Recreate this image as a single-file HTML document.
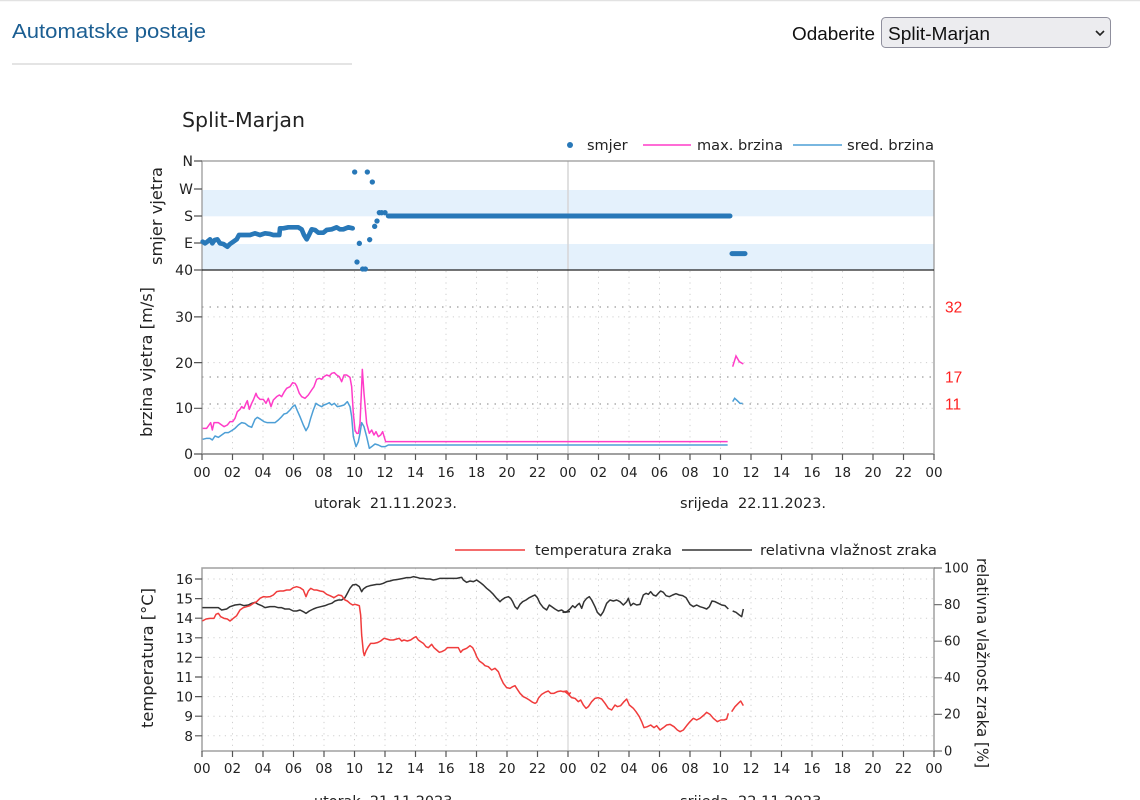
<!DOCTYPE html>
<html><head><meta charset="utf-8">
<style>
html,body{margin:0;padding:0;background:#fff;width:1140px;height:800px;overflow:hidden}
svg{position:absolute;left:0;top:0}
.t{font-family:"DejaVu Sans","Liberation Sans",sans-serif;fill:#222}
.h{font-family:"Liberation Sans",sans-serif}
</style></head><body>
<svg width="1140" height="800" viewBox="0 0 1140 800" xmlns="http://www.w3.org/2000/svg">
<line x1="0" y1="0.5" x2="1140" y2="0.5" stroke="#e2e2e2" stroke-width="1.5"/>
<!-- header -->
<text class="h" x="12" y="38" font-size="20.5" fill="#1b5e92" textLength="194" lengthAdjust="spacingAndGlyphs">Automatske postaje</text>
<line x1="12" y1="64" x2="352" y2="64" stroke="#dcdcdc" stroke-width="1.5"/>
<text class="h" x="792" y="40" font-size="18" fill="#111" textLength="83" lengthAdjust="spacingAndGlyphs">Odaberite</text>
<rect x="881.5" y="17.5" width="229" height="30" rx="4" fill="#ececef" stroke="#8f8f9d" stroke-width="1"/>
<text class="h" x="888" y="40" font-size="18" fill="#111" textLength="102" lengthAdjust="spacingAndGlyphs">Split-Marjan</text>
<path d="M1096 31 L1100 35 L1104 31" fill="none" stroke="#222" stroke-width="1.6"/>

<!-- ========== TOP CHART ========== -->
<text class="t" x="182" y="127" font-size="20.5" textLength="123" lengthAdjust="spacingAndGlyphs">Split-Marjan</text>
<!-- legend -->
<circle cx="570" cy="145" r="3" fill="#2878b8"/>
<text class="t" x="587" y="150" font-size="14.5">smjer</text>
<line x1="643" y1="145" x2="691" y2="145" stroke="#ff3cc8" stroke-width="1.6"/>
<text class="t" x="697" y="150" font-size="14.5" textLength="86" lengthAdjust="spacingAndGlyphs">max. brzina</text>
<line x1="793" y1="145" x2="842" y2="145" stroke="#4d9fd6" stroke-width="1.6"/>
<text class="t" x="847" y="150" font-size="14.5" textLength="87" lengthAdjust="spacingAndGlyphs">sred. brzina</text>

<!-- bands -->
<rect x="202" y="190" width="732" height="26.3" fill="#e4f1fc"/>
<rect x="202" y="244" width="732" height="26" fill="#e4f1fc"/>

<!-- speed panel grid -->
<path d="M232.5 271V454M263 271V454M293.5 271V454M324 271V454M354.5 271V454M385 271V454M415.5 271V454M446 271V454M476.5 271V454M507 271V454M537.5 271V454M598.5 271V454M629 271V454M659.5 271V454M690 271V454M720.5 271V454M751 271V454M781.5 271V454M812 271V454M842.5 271V454M873 271V454M903.5 271V454" stroke="#cfcfcf" stroke-width="1" stroke-dasharray="1.2,4.5"/>
<path d="M202 408.3H934M202 362.6H934M202 316.9H934" stroke="#cfcfcf" stroke-width="1" stroke-dasharray="1.2,4.5"/>
<path d="M202 307H934M202 377H934M202 404H934" stroke="#9a9a9a" stroke-width="1.3" stroke-dasharray="1.5,6"/>
<line x1="568" y1="161" x2="568" y2="454" stroke="#d6d6d6" stroke-width="1.5"/>

<!-- frame -->
<rect x="202" y="161" width="732" height="293" fill="none" stroke="#9a9a9a" stroke-width="1.3"/>
<line x1="202" y1="270" x2="934" y2="270" stroke="#222" stroke-width="1.3"/>
<line x1="202" y1="454" x2="934" y2="454" stroke="#a0a0a0" stroke-width="2"/>
<!-- left ticks -->
<path d="M194 161H202M194 189H202M194 216H202M194 243H202M194 270H202M194 316.9H202M194 362.6H202M194 408.3H202M194 454H202" stroke="#555" stroke-width="1.2"/>
<g class="t" font-size="14" text-anchor="end">
<text x="193" y="166">N</text><text x="193" y="194">W</text><text x="193" y="221">S</text><text x="193" y="248">E</text><text x="193" y="275">40</text>
<text x="193" y="322">30</text><text x="193" y="368">20</text><text x="193" y="413">10</text><text x="193" y="459">0</text>
</g>
<!-- bottom ticks -->
<path d="M202 454V460M232.5 454V460M263 454V460M293.5 454V460M324 454V460M354.5 454V460M385 454V460M415.5 454V460M446 454V460M476.5 454V460M507 454V460M537.5 454V460M568 454V460M598.5 454V460M629 454V460M659.5 454V460M690 454V460M720.5 454V460M751 454V460M781.5 454V460M812 454V460M842.5 454V460M873 454V460M903.5 454V460M934 454V460" stroke="#555" stroke-width="1.2"/>
<g class="t" font-size="13.5" text-anchor="middle">
<text x="202" y="477">00</text><text x="232.5" y="477">02</text><text x="263" y="477">04</text><text x="293.5" y="477">06</text><text x="324" y="477">08</text><text x="354.5" y="477">10</text><text x="385" y="477">12</text><text x="415.5" y="477">14</text><text x="446" y="477">16</text><text x="476.5" y="477">18</text><text x="507" y="477">20</text><text x="537.5" y="477">22</text><text x="568" y="477">00</text><text x="598.5" y="477">02</text><text x="629" y="477">04</text><text x="659.5" y="477">06</text><text x="690" y="477">08</text><text x="720.5" y="477">10</text><text x="751" y="477">12</text><text x="781.5" y="477">14</text><text x="812" y="477">16</text><text x="842.5" y="477">18</text><text x="873" y="477">20</text><text x="903.5" y="477">22</text><text x="934" y="477">00</text>
</g>
<text class="t" x="385.5" y="508" font-size="14" text-anchor="middle" textLength="143" lengthAdjust="spacingAndGlyphs">utorak&#160; 21.11.2023.</text>
<text class="t" x="753" y="508" font-size="14" text-anchor="middle" textLength="146" lengthAdjust="spacingAndGlyphs">srijeda&#160; 22.11.2023.</text>
<!-- axis titles -->
<text class="t" font-size="16" text-anchor="middle" transform="translate(162,216) rotate(-90)" textLength="98" lengthAdjust="spacingAndGlyphs">smjer vjetra</text>
<text class="t" font-size="16" text-anchor="middle" transform="translate(152,362) rotate(-90)" textLength="150" lengthAdjust="spacingAndGlyphs">brzina vjetra [m/s]</text>
<!-- threshold labels -->
<g class="h" font-size="15.5" fill="#ff2020" font-family="DejaVu Sans,sans-serif">
<text x="945" y="312.5" fill="#ff2020">32</text><text x="945" y="382.5" fill="#ff2020">17</text><text x="945" y="409.5" fill="#ff2020">11</text>
</g>

<!-- series: zoom2 coords -->
<g transform="translate(140,140) scale(0.33333)">
<polyline fill="none" stroke="#2878b8" stroke-width="14" stroke-linecap="round" stroke-linejoin="round" points="188,305 195,310 202,305 210,298 217,310 224,300 232,298 240,310 250,312 262,320 270,312 280,305 290,298 297,285 310,285 330,285 345,280 360,285 375,280 390,282 400,285 410,285 418,285 420,265 430,265 445,262 460,262 475,262 485,268 492,285 500,298 507,285 515,268 525,270 535,278 550,278 560,270 575,268 590,262 600,268 610,268 625,262 638,265"/>
<g fill="#2878b8">
<circle cx="644" cy="96" r="8"/><circle cx="651" cy="366" r="8"/><circle cx="658" cy="310" r="8"/><circle cx="668" cy="387" r="8"/><circle cx="676" cy="387" r="8"/><circle cx="682" cy="96" r="8"/><circle cx="689" cy="299" r="8"/><circle cx="697" cy="126" r="8"/><circle cx="704" cy="259" r="8"/><circle cx="711" cy="243" r="8"/><circle cx="718" cy="218" r="8"/><circle cx="725" cy="218" r="8"/><circle cx="735" cy="218" r="8"/>
</g>
<line x1="745" y1="228" x2="1770" y2="228" stroke="#2878b8" stroke-width="15" stroke-linecap="round"/>
<line x1="1776" y1="341" x2="1815" y2="341" stroke="#2878b8" stroke-width="15" stroke-linecap="round"/>

<polyline fill="none" stroke="#ff3cc8" stroke-width="4.5" stroke-linejoin="round" points="188,865 200,865 207,855 212,848 217,870 222,848 235,848 245,855 252,860 262,855 270,845 278,845 285,835 292,815 300,808 305,800 312,805 318,790 322,782 328,808 335,790 340,780 348,760 352,770 360,778 370,778 378,790 385,775 393,800 400,780 410,770 418,765 425,770 433,755 440,745 450,740 458,728 465,730 470,738 478,760 485,770 495,775 505,765 515,750 522,740 530,718 538,715 545,718 552,710 560,705 568,708 575,700 583,698 590,705 598,710 605,725 612,705 620,705 630,712 635,740 640,820 645,870 650,880 655,880 660,850 664,760 667,688 672,760 680,850 688,880 695,870 702,885 708,875 715,890 722,885 728,875 733,892 737,905 1763,905"/>
<polyline fill="none" stroke="#4d9fd6" stroke-width="4.5" stroke-linejoin="round" points="188,898 200,895 210,895 217,900 225,888 235,892 245,885 255,878 265,878 275,872 285,865 295,855 305,848 315,850 325,858 335,862 345,838 352,832 362,838 372,845 382,848 395,848 405,848 415,840 425,830 432,822 440,820 450,810 458,800 465,795 472,812 480,830 490,855 498,872 505,860 512,835 520,810 528,790 535,795 545,800 552,795 560,792 568,788 575,795 583,790 592,800 602,798 612,795 622,785 630,800 635,830 640,890 648,920 655,905 660,880 665,848 672,860 680,890 688,925 695,920 705,912 715,915 725,920 735,920 745,915 1763,915"/>
</g>
<g transform="translate(560,140) scale(0.33333)">
<polyline fill="none" stroke="#ff3cc8" stroke-width="4.5" points="518,680 528,648 538,665 550,672"/>
<polyline fill="none" stroke="#4d9fd6" stroke-width="4.5" points="518,785 524,775 532,782 540,790 548,790"/>
</g>

<!-- ========== BOTTOM CHART ========== -->
<line x1="455" y1="550" x2="525" y2="550" stroke="#f03c3c" stroke-width="1.6"/>
<text class="t" x="535" y="555" font-size="14.5" textLength="137" lengthAdjust="spacingAndGlyphs">temperatura zraka</text>
<line x1="682" y1="550" x2="752" y2="550" stroke="#333" stroke-width="1.6"/>
<text class="t" x="760" y="555" font-size="14.5" textLength="177" lengthAdjust="spacingAndGlyphs">relativna vlažnost zraka</text>

<path d="M232.5 568V751M263 568V751M293.5 568V751M324 568V751M354.5 568V751M385 568V751M415.5 568V751M446 568V751M476.5 568V751M507 568V751M537.5 568V751M598.5 568V751M629 568V751M659.5 568V751M690 568V751M720.5 568V751M751 568V751M781.5 568V751M812 568V751M842.5 568V751M873 568V751M903.5 568V751" stroke="#cfcfcf" stroke-width="1" stroke-dasharray="1.2,4.5"/>
<path d="M202 579H934M202 598.6H934M202 618.2H934M202 637.8H934M202 657.4H934M202 677H934M202 696.6H934M202 716.2H934M202 735.8H934" stroke="#cfcfcf" stroke-width="1" stroke-dasharray="1.2,4.5"/>
<line x1="568" y1="568" x2="568" y2="751" stroke="#d9d9d9" stroke-width="1.3"/>
<rect x="202" y="568" width="732" height="183" fill="none" stroke="#a0a0a0" stroke-width="1.5"/>
<path d="M195 579H202M195 598.6H202M195 618.2H202M195 637.8H202M195 657.4H202M195 677H202M195 696.6H202M195 716.2H202M195 735.8H202" stroke="#555" stroke-width="1.2"/>
<path d="M934 568H942M934 604.6H942M934 641.2H942M934 677.8H942M934 714.4H942M934 751H942" stroke="#777" stroke-width="1.2"/>
<g class="t" font-size="13.5" text-anchor="end">
<text x="193" y="584">16</text><text x="193" y="603.6">15</text><text x="193" y="623.2">14</text><text x="193" y="642.8">13</text><text x="193" y="662.4">12</text><text x="193" y="682">11</text><text x="193" y="701.6">10</text><text x="193" y="721.2">9</text><text x="193" y="740.8">8</text>
</g>
<g class="t" font-size="13">
<text x="944" y="572.5">100</text><text x="944" y="609">80</text><text x="944" y="645.5">60</text><text x="944" y="682">40</text><text x="944" y="718.5">20</text><text x="944" y="755.5">0</text>
</g>
<path d="M202 751V757M232.5 751V757M263 751V757M293.5 751V757M324 751V757M354.5 751V757M385 751V757M415.5 751V757M446 751V757M476.5 751V757M507 751V757M537.5 751V757M568 751V757M598.5 751V757M629 751V757M659.5 751V757M690 751V757M720.5 751V757M751 751V757M781.5 751V757M812 751V757M842.5 751V757M873 751V757M903.5 751V757M934 751V757" stroke="#555" stroke-width="1.2"/>
<g class="t" font-size="13.5" text-anchor="middle">
<text x="202" y="773">00</text><text x="232.5" y="773">02</text><text x="263" y="773">04</text><text x="293.5" y="773">06</text><text x="324" y="773">08</text><text x="354.5" y="773">10</text><text x="385" y="773">12</text><text x="415.5" y="773">14</text><text x="446" y="773">16</text><text x="476.5" y="773">18</text><text x="507" y="773">20</text><text x="537.5" y="773">22</text><text x="568" y="773">00</text><text x="598.5" y="773">02</text><text x="629" y="773">04</text><text x="659.5" y="773">06</text><text x="690" y="773">08</text><text x="720.5" y="773">10</text><text x="751" y="773">12</text><text x="781.5" y="773">14</text><text x="812" y="773">16</text><text x="842.5" y="773">18</text><text x="873" y="773">20</text><text x="903.5" y="773">22</text><text x="934" y="773">00</text>
</g>
<text class="t" x="385.5" y="806" font-size="14" text-anchor="middle" textLength="143" lengthAdjust="spacingAndGlyphs">utorak&#160; 21.11.2023.</text>
<text class="t" x="753" y="806" font-size="14" text-anchor="middle" textLength="146" lengthAdjust="spacingAndGlyphs">srijeda&#160; 22.11.2023.</text>
<text class="t" font-size="16" text-anchor="middle" transform="translate(153,658) rotate(-90)" textLength="140" lengthAdjust="spacingAndGlyphs">temperatura [°C]</text>
<text class="t" font-size="16" text-anchor="middle" transform="translate(977,663) rotate(90)" textLength="210" lengthAdjust="spacingAndGlyphs">relativna vlažnost zraka [%]</text>

<g transform="translate(130,535) scale(0.33333)" fill="none" stroke-width="4.5" stroke-linejoin="round">
<polyline stroke="#333" points="217,218 230,218 250,218 265,218 275,225 290,222 300,215 315,210 330,208 342,212 355,210 365,205 375,202 385,208 395,212 405,218 420,215 435,215 445,218 455,218 465,222 478,222 490,228 500,228 510,225 520,230 528,235 538,228 550,222 560,218 572,215 585,212 595,208 605,205 615,198 625,195 635,195 645,188 652,175 660,160 668,150 678,148 688,155 695,170 700,162 710,155 720,152 730,150 740,148 750,148 760,145 770,140 780,138 790,135 800,134 810,132 820,130 830,128 840,128 850,125 860,127 870,130 880,130 890,132 900,132 910,135 920,133 930,130 940,130 950,130 960,130 970,130 980,130 990,128 995,127 1000,135 1010,142 1020,138 1030,140 1040,135 1050,142 1060,150 1070,160 1080,168 1090,178 1100,190 1110,200 1115,195 1125,188 1135,185 1142,190 1148,200 1155,215 1162,222 1170,208 1178,200 1188,195 1198,188 1210,182 1215,180 1222,188 1230,205 1240,218 1250,225 1258,210 1265,215 1275,222 1285,228 1295,225 1305,232 1318,230 1320,230"/>
<polyline stroke="#f03c3c" points="217,258 228,252 240,250 252,250 258,238 265,235 272,245 282,250 292,252 300,258 310,250 320,242 330,225 340,218 350,215 360,212 370,205 380,200 390,190 400,185 410,186 420,185 430,180 440,170 450,168 460,168 470,165 480,165 490,158 500,155 510,158 520,165 528,185 535,168 542,160 552,165 560,165 570,168 580,170 590,178 600,182 612,188 625,180 635,182 645,195 652,198 660,205 668,210 675,208 682,210 688,212 692,240 695,300 700,350 703,362 708,348 715,335 722,325 732,325 742,323 752,318 762,310 770,312 780,315 790,315 800,312 808,310 815,318 822,315 832,318 842,315 852,308 858,305 865,315 872,320 880,325 888,335 895,338 905,328 912,338 920,345 928,352 935,350 945,345 952,338 965,338 975,338 985,338 992,352 998,345 1010,340 1020,332 1028,338 1035,352 1040,365 1048,378 1058,385 1065,392 1075,395 1085,405 1095,400 1105,410 1112,428 1120,445 1130,458 1140,460 1148,455 1155,452 1160,460 1170,475 1180,485 1190,490 1198,495 1208,502 1215,505 1220,502 1225,490 1235,478 1245,472 1255,468 1262,475 1272,475 1282,470 1292,468 1300,470 1310,468 1318,478 1322,472"/>
</g>
<g transform="translate(560,535) scale(0.33333)" fill="none" stroke-width="4.5" stroke-linejoin="round">
<polyline stroke="#333" points="8,230 10,232 20,230 30,222 38,212 45,218 52,210 58,205 65,220 72,200 80,190 88,185 95,195 105,215 112,232 122,242 130,230 140,205 150,195 160,198 170,195 180,200 190,210 200,200 205,190 212,212 220,205 230,210 240,208 250,180 258,175 265,178 272,170 280,180 288,183 295,175 302,168 310,172 318,182 328,185 338,180 348,176 358,180 368,182 378,188 390,208 400,215 410,210 420,215 430,218 440,222 448,215 456,198 465,200 475,205 485,210 495,212 505,222"/>
<polyline stroke="#333" points="518,228 528,232 538,240 545,245 550,222"/>
<polyline stroke="#f03c3c" points="8,470 15,470 25,478 35,488 45,490 55,500 62,495 70,510 78,520 85,515 95,500 105,490 115,488 125,492 135,505 145,520 155,525 165,510 172,515 182,512 192,500 200,492 208,510 220,520 228,530 238,545 245,560 252,578 262,575 272,570 282,578 290,572 300,585 310,578 320,570 330,568 342,575 352,585 360,590 370,585 380,572 390,560 400,550 410,555 420,550 432,540 440,532 450,538 460,550 472,560 482,555 492,555 500,552 505,535"/>
<polyline stroke="#f03c3c" points="515,530 525,515 535,505 542,498 550,512"/>
</g>
</svg>
</body></html>
